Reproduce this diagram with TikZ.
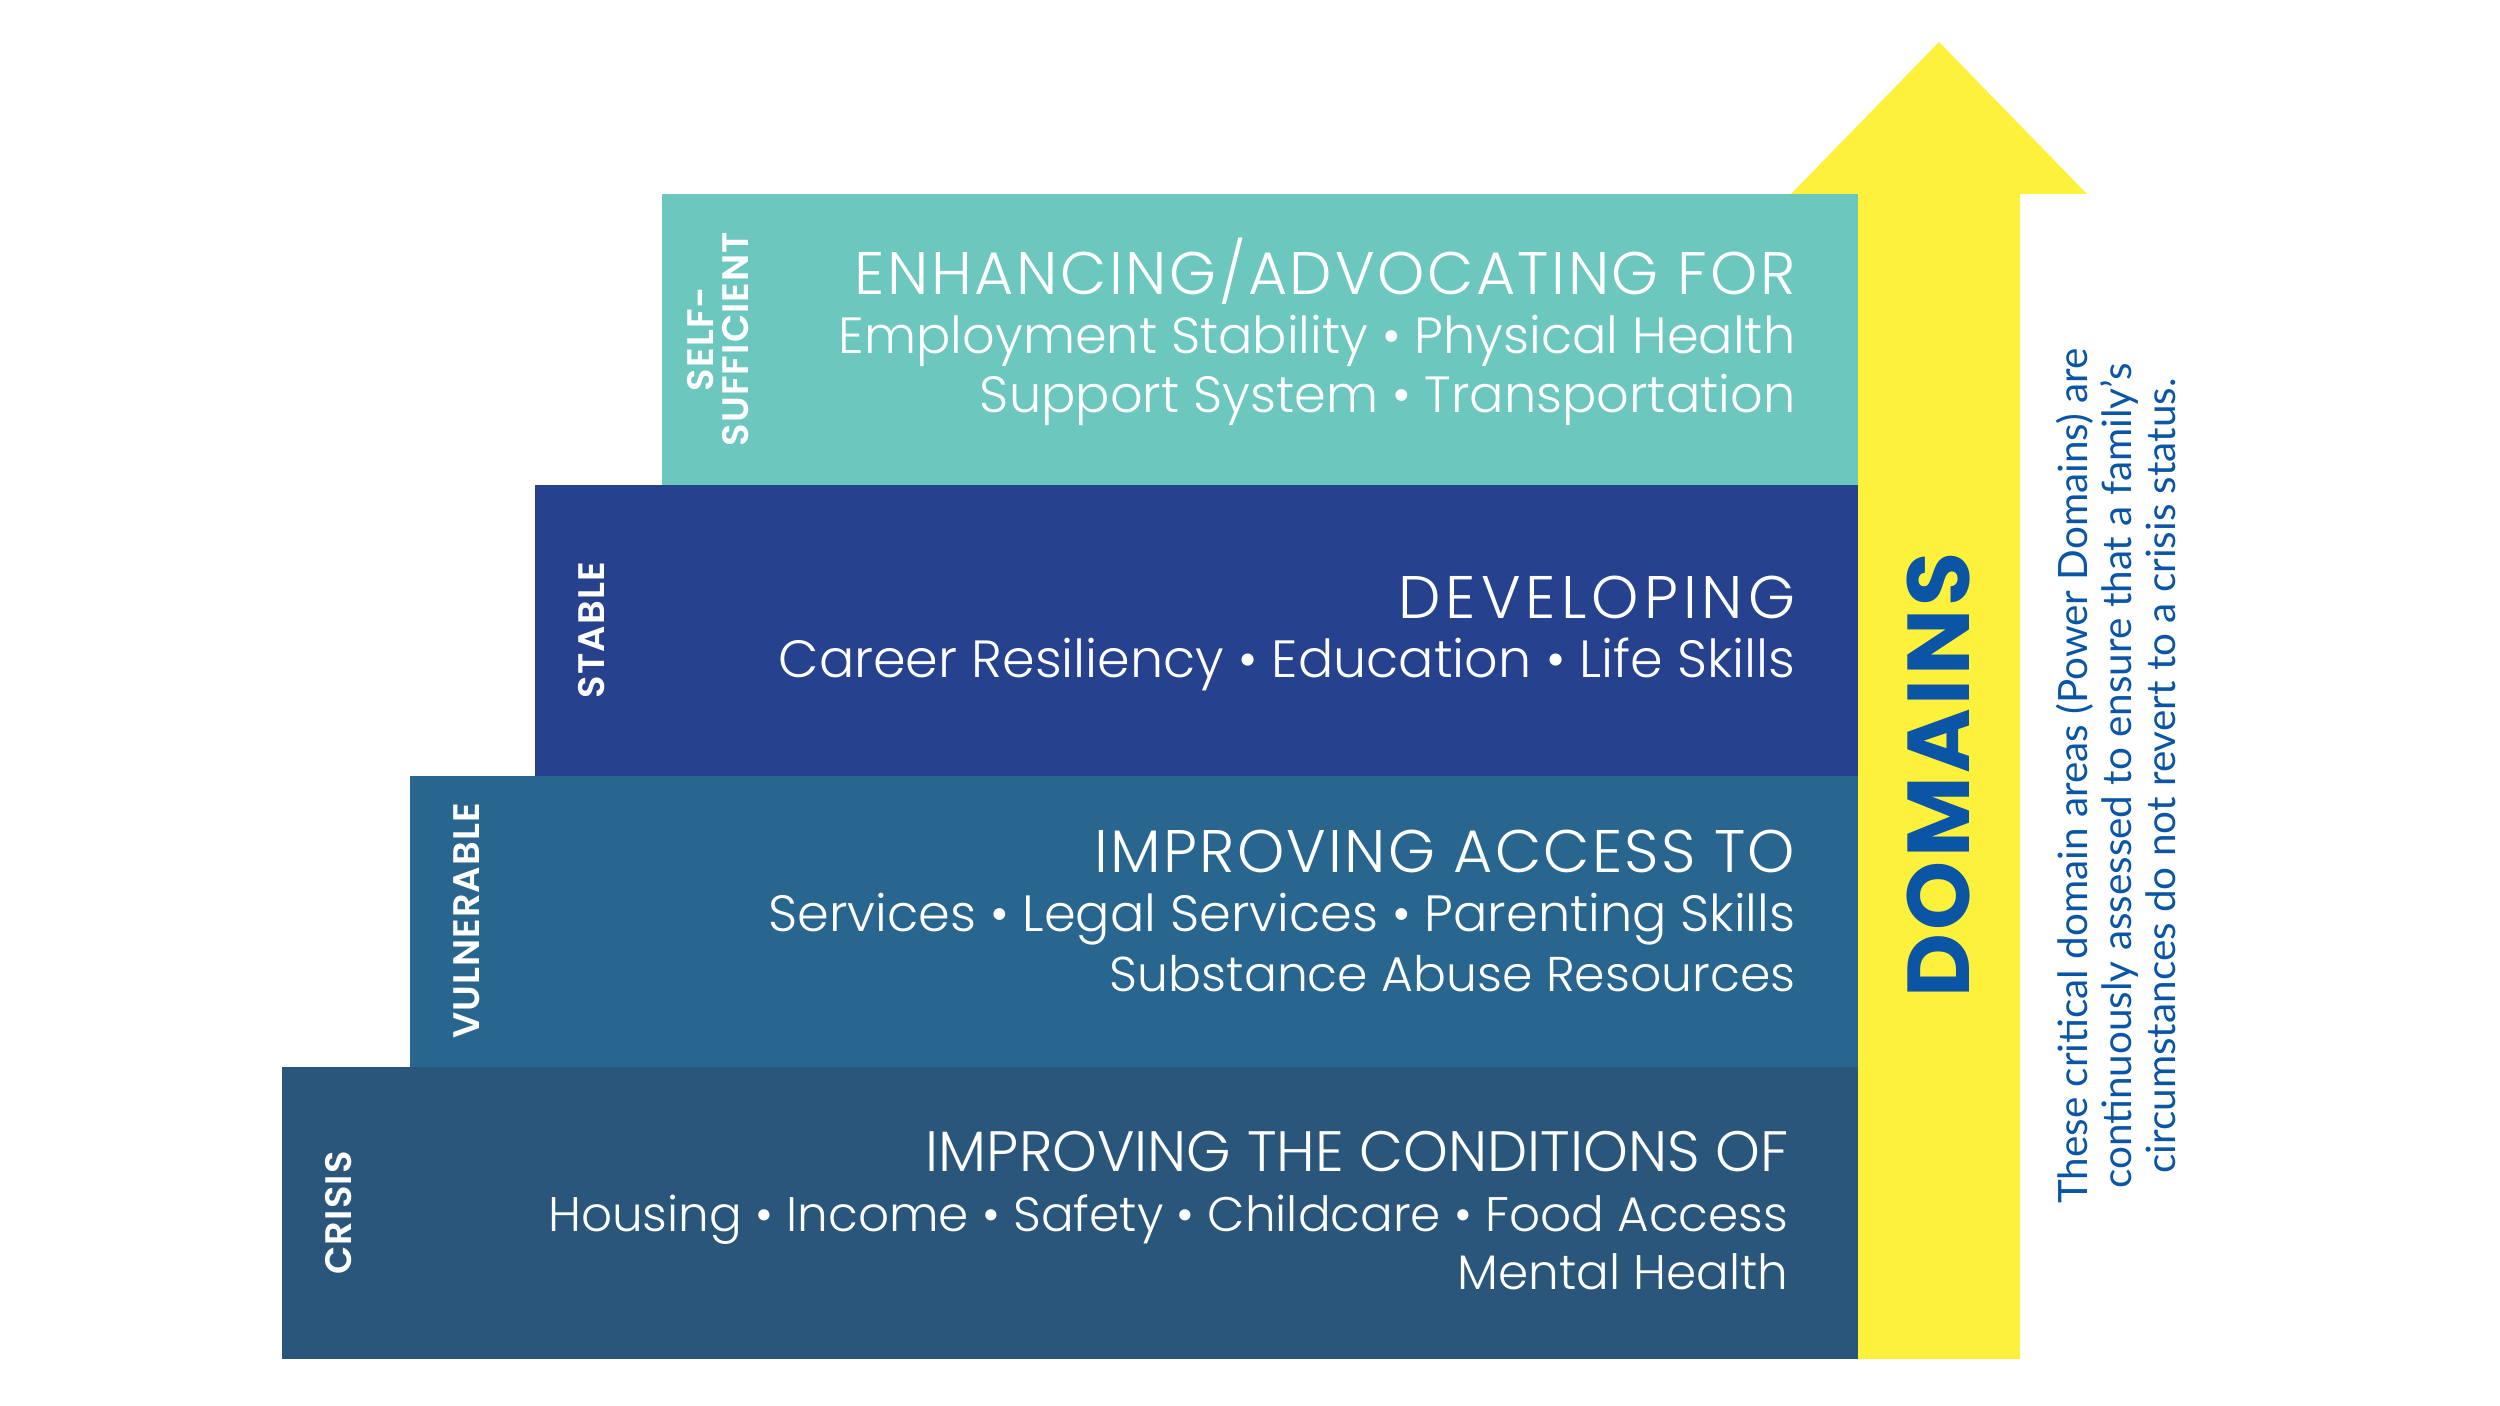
\documentclass[tikz,border=0pt]{standalone}
\usepackage{fontspec}
\setmainfont{Poppins Light}
\newfontfamily\headfont{Poppins Light}[LetterSpace=4.3]
\newfontfamily\labelfont{Poppins SemiBold}[LetterSpace=3]
\newfontfamily\bigfont{Poppins Bold}[LetterSpace=4]
\newfontfamily\notefont{Lato}

\definecolor{selfteal}{HTML}{6CC7BF}
\definecolor{stableblue}{HTML}{26418E}
\definecolor{vulnblue}{HTML}{29668F}
\definecolor{crisisblue}{HTML}{29567A}
\definecolor{arrowyellow}{HTML}{FDF13B}
\definecolor{domainblue}{HTML}{0A55A5}

\tikzset{
  stagelabel/.style={font=\labelfont\fontsize{10.5pt}{10.2pt}\selectfont, text=white, rotate=90, align=center, inner sep=0pt},
  headline/.style={font=\headfont\fontsize{17.1pt}{17pt}\selectfont, text=white, anchor=base east, inner sep=0pt},
  itemline/.style={font=\fontsize{14.5pt}{14.5pt}\selectfont, text=white, anchor=base east, inner sep=0pt},
}

\begin{document}
\begin{tikzpicture}
        \useasboundingbox (0,0) rectangle (25,14.06);

        % === Arrow ===
        \fill[arrowyellow] (18.58,0.47) -- (18.58,12.12) -- (17.91,12.12) -- (19.39,13.64)
              -- (20.87,12.12) -- (20.20,12.12) -- (20.20,0.47) -- cycle;

        % === Steps ===
        \fill[crisisblue] (2.82,0.47) rectangle (18.58,3.39);
        \fill[vulnblue] (4.10,3.39) rectangle (18.58,6.30);
        \fill[stableblue] (5.35,6.30) rectangle (18.58,9.21);
        \fill[selfteal] (6.62,9.21) rectangle (18.58,12.12);

        % Stage labels
        \node[stagelabel] (crisis) at (3.39,1.93) {CRISIS};
        \node[stagelabel] (vulnerable) at (4.67,4.85) {VULNERABLE};
        \node[stagelabel] (stable) at (5.92,7.76) {STABLE};
        \node[stagelabel] (selfsuff) at (7.18,10.67) {SELF-\\SUFFICIENT};

        % Self-sufficient
        \node[headline] (selfhead) at (17.96,11.11) {ENHANCING/ADVOCATING FOR};
        \node[itemline] (selfa) at (17.96,10.52) {Employment Stability • Physical Health};
        \node[itemline] (selfb) at (17.96,9.93) {Support System • Transportation};

        % Stable
        \node[headline] (stablehead) at (17.96,7.87) {\addfontfeature{LetterSpace=8.5}DEVELOPING};
        \node[itemline, font=\fontsize{14.9pt}{14.5pt}\selectfont] (stablea) at (17.96,7.28) {Career Resiliency • Education • Life Skills};

        % Vulnerable
        \node[headline] (vulnhead) at (17.96,5.33) {\addfontfeature{LetterSpace=3.7}IMPROVING ACCESS TO};
        \node[itemline] (vulna) at (17.96,4.74) {Services • Legal Services • Parenting Skills};
        \node[itemline, font=\fontsize{13.9pt}{14.5pt}\selectfont] (vulnb) at (17.96,4.14) {Substance Abuse Resources};

        % Crisis
        \node[headline, font=\fontsize{16.2pt}{17pt}\selectfont] (crisishead) at (17.89,2.34) {IMPROVING THE CONDITIONS OF};
        \node[itemline, font=\fontsize{13.8pt}{14.5pt}\selectfont] (crisisa) at (17.89,1.74) {Housing • Income • Safety • Childcare • Food Access};
        \node[itemline, font=\fontsize{13.8pt}{14.5pt}\selectfont] (crisisb) at (17.89,1.16) {Mental Health};

        % === Domains ===
        \node[font=\bigfont\fontsize{25pt}{25pt}\selectfont, text=domainblue, rotate=90, inner sep=0pt] (domains) at (19.38,6.31) {DOMAINS};
        \node[font=\notefont\fontsize{11.5pt}{12.4pt}\selectfont, text=domainblue, rotate=90, align=center, inner sep=0pt] (note) at (21.16,6.30)
              {These critical domain areas (Power Domains) are\\continuously assessed to ensure that a family’s\\circumstances do not revert to a crisis status.};

\end{tikzpicture}
\end{document}
